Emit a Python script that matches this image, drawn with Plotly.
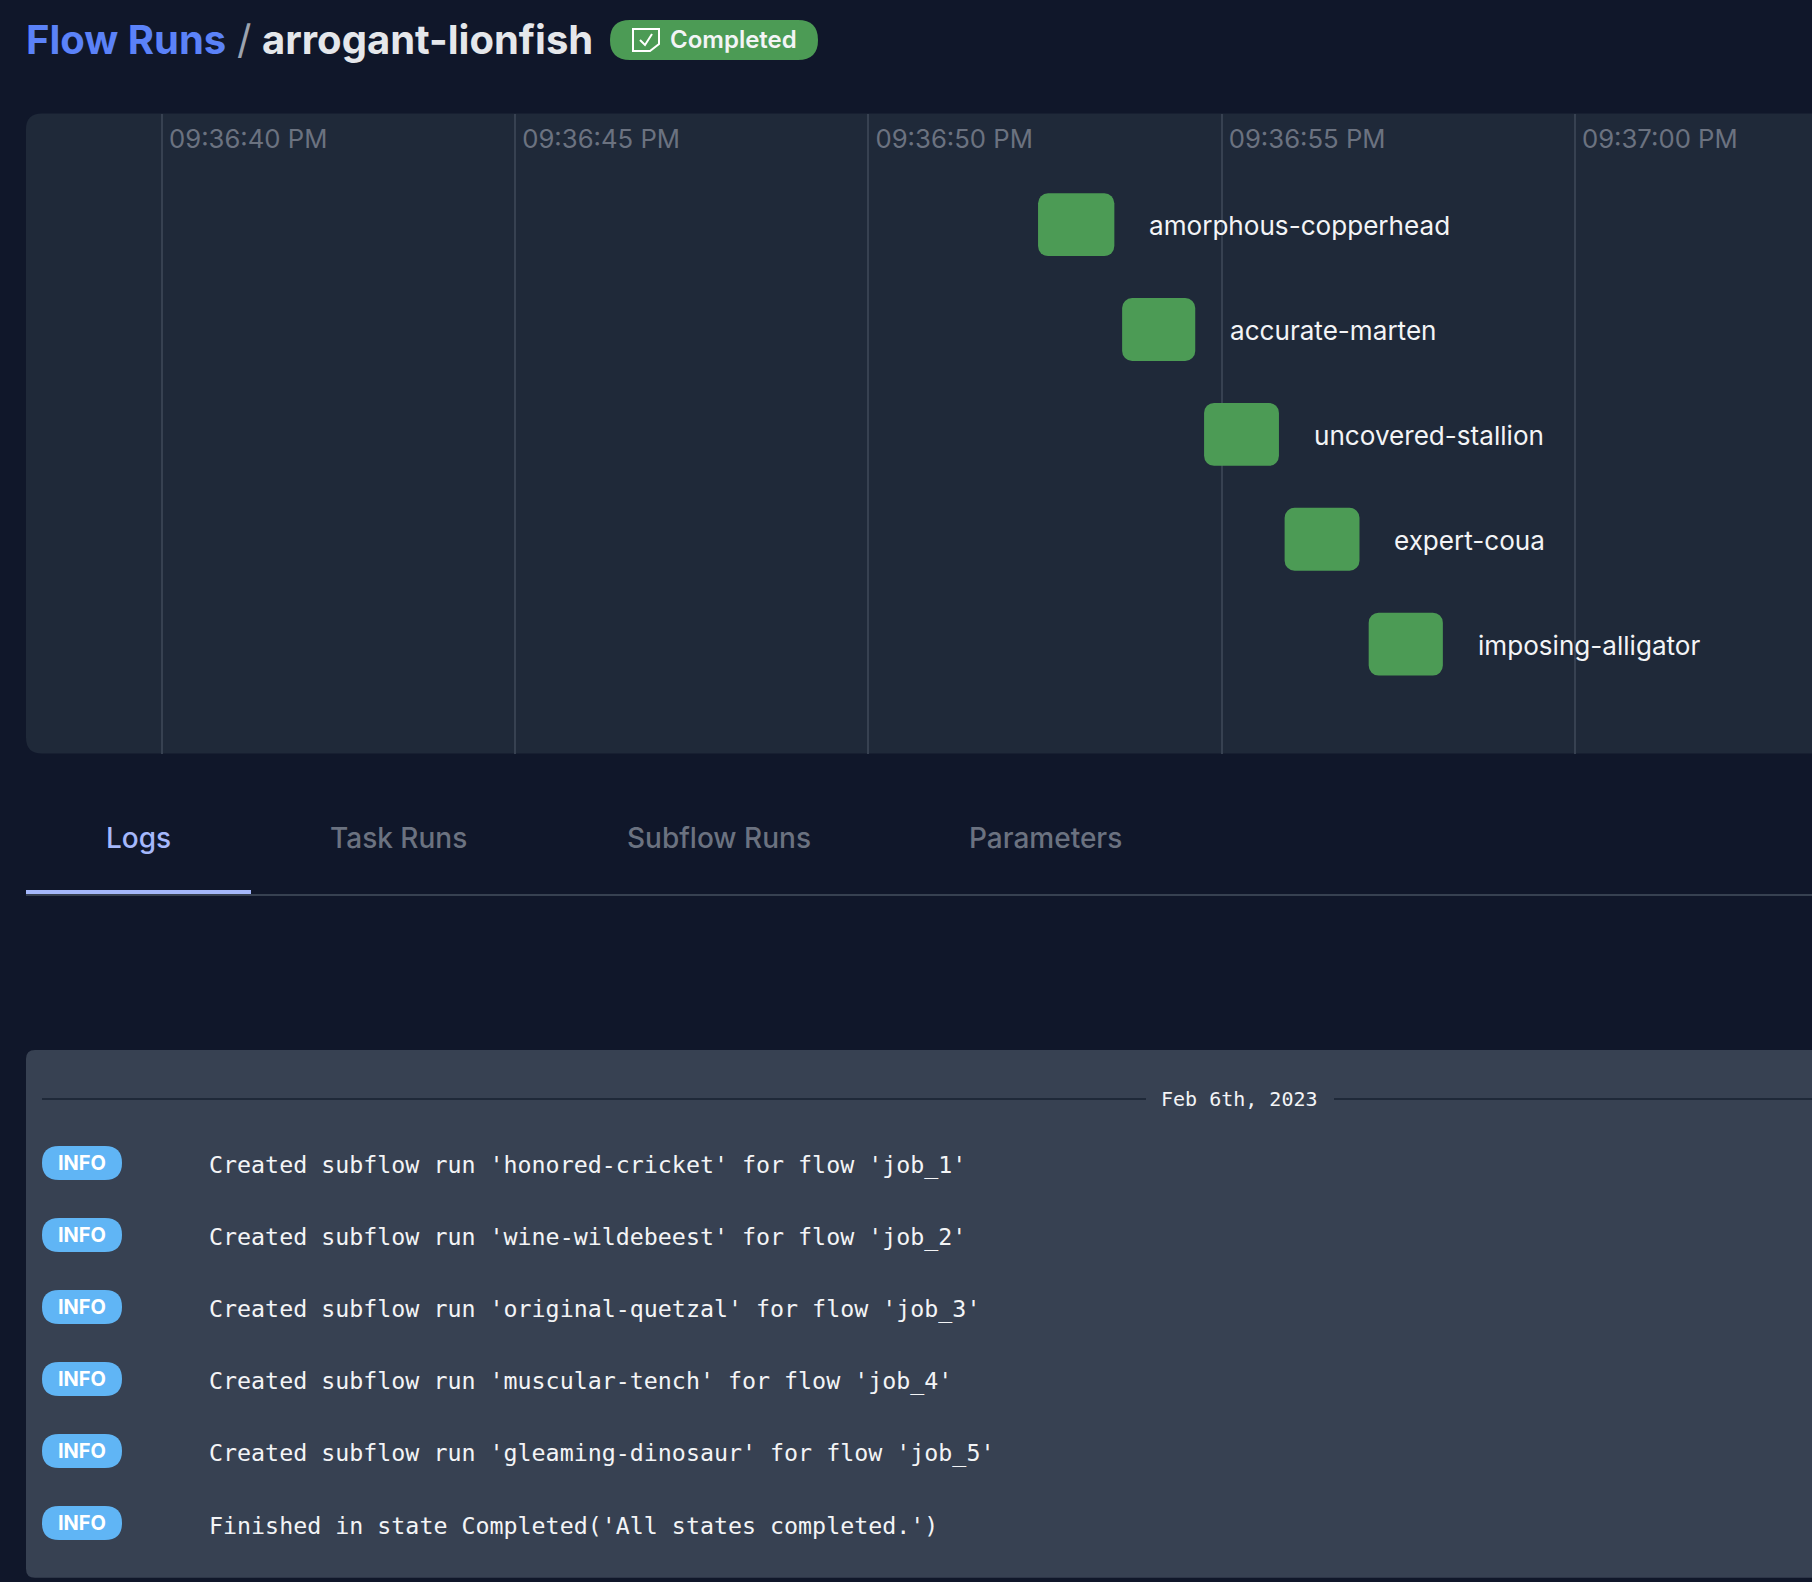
import plotly.graph_objects as go

W, H = 1812, 1582

# flow run timeline
run_names = ["amorphous-copperhead", "accurate-marten", "uncovered-stallion", "expert-coua", "imposing-alligator"]
run_starts = ["2023-02-06 21:36:52.40", "2023-02-06 21:36:53.59", "2023-02-06 21:36:54.75", "2023-02-06 21:36:55.89", "2023-02-06 21:36:57.08"]
run_lengths_ms = [1080, 1035, 1060, 1060, 1050]
axis_range = ["2023-02-06 21:36:38.075", "2023-02-06 21:37:03.355"]

tab_labels = ["Logs", "Task Runs", "Subflow Runs", "Parameters"]
tab_colors = ["#a5b8fb", "#6b7280", "#6b7280", "#6b7280"]
tab_left = [106, 330, 627, 969]

log_date = "Feb 6th, 2023"
log_messages = [
    "Created subflow run 'honored-cricket' for flow 'job_1'",
    "Created subflow run 'wine-wildebeest' for flow 'job_2'",
    "Created subflow run 'original-quetzal' for flow 'job_3'",
    "Created subflow run 'muscular-tench' for flow 'job_4'",
    "Created subflow run 'gleaming-dinosaur' for flow 'job_5'",
    "Finished in state Completed('All states completed.')",
]

BG = "#10172a"
PANEL = "#1f2939"
LOGPANEL = "#374152"
GREEN = "#4c9b55"
BLUE = "#60b5f5"
LINE = "#374151"
MONO = "DejaVu Sans Mono"


def px(x):
    return x / W


def py(y):
    return 1 - y / H


def rrect(x0, y0, x1, y1, r, r_right=None):
    rr = r if r_right is None else r_right
    return (f"M {px(x0 + r)} {py(y0)} L {px(x1 - rr)} {py(y0)} Q {px(x1)} {py(y0)} {px(x1)} {py(y0 + rr)} "
            f"L {px(x1)} {py(y1 - rr)} Q {px(x1)} {py(y1)} {px(x1 - rr)} {py(y1)} "
            f"L {px(x0 + r)} {py(y1)} Q {px(x0)} {py(y1)} {px(x0)} {py(y1 - r)} "
            f"L {px(x0)} {py(y0 + r)} Q {px(x0)} {py(y0)} {px(x0 + r)} {py(y0)} Z")


def box(x0, y0, x1, y1, r, color, r_right=None):
    return dict(type="path", path=rrect(x0, y0, x1, y1, r, r_right), xref="paper", yref="paper",
                fillcolor=color, line_width=0, layer="below")


def bar_line(x0, y0, x1, y1, color):
    return dict(type="rect", x0=px(x0), x1=px(x1), y0=py(y0), y1=py(y1), xref="paper", yref="paper",
                fillcolor=color, line_width=0, layer="below")


def label(x, y, text, size, color, family="Inter", weight=400, anchor="left"):
    return dict(x=px(x), y=py(y), xref="paper", yref="paper", text=text, showarrow=False,
                xanchor=anchor, yanchor="middle", borderpad=0, borderwidth=0,
                font=dict(family=family, size=size, color=color, weight=weight))


shapes = [
    box(26, 113.5, 1830, 753.6, 16, PANEL, 0),
    box(26, 1050, 1830, 1577.7, 9, LOGPANEL, 0),
    box(610, 20, 818, 60, 20, GREEN),
    bar_line(26, 894, W, 896, LINE),
    bar_line(26, 890, 251, 894, "#a5b8fb"),
    bar_line(42, 1098, 1146, 1100, PANEL),
    bar_line(1334, 1098, W, 1100, PANEL),
    # check box icon in the status badge
    dict(type="path", xref="paper", yref="paper", layer="above", line=dict(color="white", width=2),
         path=f"M {px(633)} {py(29)} L {px(659)} {py(29)} L {px(659)} {py(44)} L {px(650)} {py(51)} L {px(633)} {py(51)} Z"),
    dict(type="path", xref="paper", yref="paper", layer="above", line=dict(color="white", width=2),
         path=f"M {px(640)} {py(40)} L {px(645)} {py(45)} L {px(652)} {py(34)}"),
]

annotations = [
    label(26, 39, "Flow Runs", 40, "#5b82f8", weight=700),
    label(237, 39, "/", 40, "#9ca3af", weight=400),
    label(262, 39, "arrogant-lionfish", 40, "#e5e7eb", weight=700),
    label(670, 39, "Completed", 24, "#f3f4f6", weight=600),
    label(1161, 1098.5, log_date, 20, "#f3f4f6", family=MONO),
]

for text, color, left in zip(tab_labels, tab_colors, tab_left):
    annotations.append(label(left, 838, text, 28, color, weight=500))

for i, msg in enumerate(log_messages):
    top = 1146 + 72 * i
    shapes.append(box(42, top, 122, top + 34, 17, BLUE))
    annotations.append(label(81.7, top + 17, "INFO", 20, "white", weight=700, anchor="center"))
    annotations.append(label(209, top + 19, msg, 23.3, "#f3f4f6", family=MONO))

fig = go.Figure()
fig.add_trace(go.Bar(
    y=run_names,
    x=run_lengths_ms,
    base=run_starts,
    orientation="h",
    marker=dict(color=GREEN, cornerradius=10, line_width=0),
    hoverinfo="skip",
    showlegend=False,
))

# run names sit a fixed distance right of each bar
for name, start, length in zip(run_names, run_starts, run_lengths_ms):
    sec = float(start[-5:]) + length / 1000
    end = f"{start[:-5]}{sec:05.2f}"
    annotations.append(dict(x=end, y=name, xref="x", yref="y", text=name, showarrow=False, xanchor="left",
                            yanchor="middle", xshift=34, yshift=-1, borderpad=0,
                            font=dict(family="Inter", size=26.1, color="#f3f4f6")))

fig.update_layout(
    width=W,
    height=H,
    margin=dict(l=0, r=0, t=0, b=0),
    paper_bgcolor=BG,
    plot_bgcolor="rgba(0,0,0,0)",
    bargap=0.4,
    showlegend=False,
    hovermode=False,
    shapes=shapes,
    annotations=annotations,
    xaxis=dict(
        type="date",
        domain=[px(26), 1],
        range=axis_range,
        side="top",
        dtick=5000,
        tick0="2023-02-06 21:36:40",
        tickformat="%I:%M:%S %p",
        ticklabelposition="inside right",
        ticklabelstandoff=11,
        ticklabelshift=7,
        tickfont=dict(family="Inter", size=25.7, color="#6b7280"),
        showgrid=True,
        gridcolor=LINE,
        gridwidth=2,
        zeroline=False,
        showline=False,
    ),
    yaxis=dict(
        type="category",
        categoryorder="array",
        categoryarray=run_names,
        domain=[py(753.6), py(113.5)],
        range=[5.044, -1.06],
        showticklabels=False,
        showgrid=False,
        zeroline=False,
        showline=False,
    ),
)

fig.write_html("out.html", config=dict(displayModeBar=False),
               post_script="document.body.style.margin='0';document.body.style.overflow='hidden';")
